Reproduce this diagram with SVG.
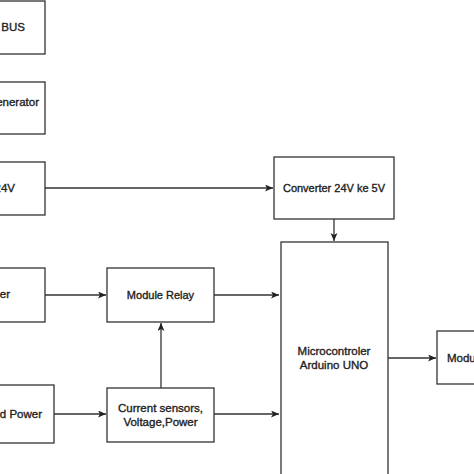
<svg xmlns="http://www.w3.org/2000/svg" width="474" height="474" viewBox="0 0 474 474">
  <style>
    .box { fill: #ffffff; stroke: #333333; stroke-width: 1.3; }
    .lbl { font-family: "Liberation Sans", Arial, sans-serif; font-size: 11.5px; fill: #222222; stroke: #222222; stroke-width: 0.35; dominant-baseline: central; }
    .mid { text-anchor: middle; }
    .end { text-anchor: end; }
    .edge { fill: none; stroke: #333333; stroke-width: 1.3; }
  </style>
  <defs>
    <marker id="arr" markerUnits="userSpaceOnUse" markerWidth="10" markerHeight="10" refX="8" refY="3.5" orient="auto">
      <path d="M0,0 L8,3.5 L0,7 L2,3.5 Z" fill="#222222"/>
    </marker>
  </defs>
  <rect width="474" height="474" fill="#ffffff"/>

  <g id="node-bus">
    <rect class="box" x="-60" y="1" width="105" height="53"/>
    <text class="lbl end" x="25" y="27">BUS</text>
  </g>
  <g id="node-generator">
    <rect class="box" x="-60" y="82" width="105" height="52"/>
    <text class="lbl end" x="39" y="102">Generator</text>
  </g>
  <g id="node-24v">
    <rect class="box" x="-60" y="162" width="105" height="53"/>
    <text class="lbl end" x="15" y="188">24V</text>
  </g>
  <g id="node-er">
    <rect class="box" x="-60" y="268" width="105" height="54"/>
    <text class="lbl end" x="10" y="294">er</text>
  </g>
  <g id="node-power">
    <rect class="box" x="-60" y="385" width="114" height="58"/>
    <text class="lbl end" x="42" y="414">d Power</text>
  </g>
  <g id="node-relay">
    <rect class="box" x="107" y="268" width="107" height="54"/>
    <text class="lbl mid" x="160.5" y="295" style="font-size:11px">Module Relay</text>
  </g>
  <g id="node-sensors">
    <rect class="box" x="107" y="388" width="107" height="54"/>
    <text class="lbl mid" x="160.5" y="408">Current sensors,</text>
    <text class="lbl mid" x="160.5" y="421.5">Voltage,Power</text>
  </g>
  <g id="node-converter">
    <rect class="box" x="274" y="157" width="120" height="62"/>
    <text class="lbl mid" x="334" y="188" style="font-size:11px">Converter 24V ke 5V</text>
  </g>
  <g id="node-arduino">
    <rect class="box" x="281" y="242" width="107" height="260"/>
    <text class="lbl mid" x="334" y="351">Microcontroler</text>
    <text class="lbl mid" x="334" y="364.5">Arduino UNO</text>
  </g>
  <g id="node-module">
    <rect class="box" x="437" y="331" width="80" height="53"/>
    <text class="lbl" x="447" y="358">Modu</text>
  </g>

  <g id="connectors">
    <path class="edge" d="M45,188 L273,188" stroke="#555555" marker-end="url(#arr)"/>
    <path class="edge" d="M45,295 L106,295" marker-end="url(#arr)"/>
    <path class="edge" d="M214,295 L279,295" marker-end="url(#arr)"/>
    <path class="edge" d="M54,414 L106,414" marker-end="url(#arr)"/>
    <path class="edge" d="M214,414 L279,414" marker-end="url(#arr)"/>
    <path class="edge" d="M161,388 L161,323" stroke="#555555" marker-end="url(#arr)"/>
    <path class="edge" d="M334,219 L334,241" marker-end="url(#arr)"/>
    <path class="edge" d="M388,358 L436,358" marker-end="url(#arr)"/>
  </g>
</svg>
